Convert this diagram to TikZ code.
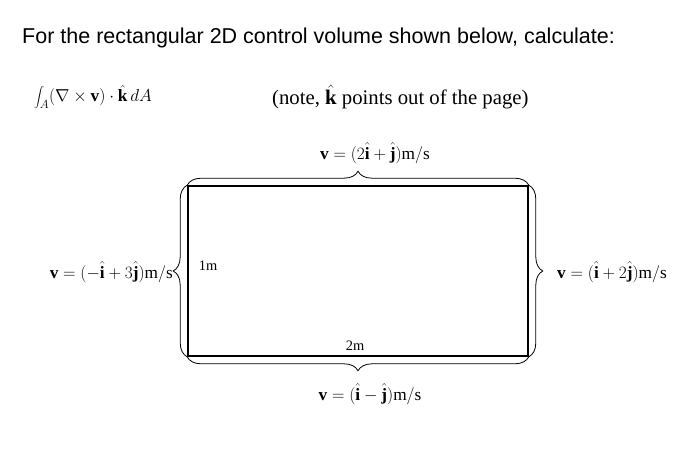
\documentclass[tikz,border=0pt]{standalone}
\usepackage{fontspec}
\setmainfont{Liberation Serif}
\newfontfamily\titlefont{Liberation Sans}
\usetikzlibrary{decorations.pathreplacing}
\begin{document}
\begin{tikzpicture}[x=1pt,y=-1pt,
  lbl/.style={font=\LARGE,inner sep=0pt},
  br/.style={decorate,decoration={brace,amplitude=14pt},thick}]
\useasboundingbox (0,0) rectangle (691,463);
\node[anchor=west,inner sep=0pt,font=\titlefont\fontsize{21.5}{24}\selectfont] (title) at (22,38) {For the rectangular 2D control volume shown below, calculate:};
\node[anchor=west,lbl] (int) at (34,97) {$\displaystyle\int_A (\nabla\times\mathbf{v})\cdot\hat{\mathbf{k}}\,dA$};
\node[anchor=west,inner sep=0pt,font=\huge] (note) at (272,97) {(note, $\hat{\mathbf{k}}$ points out of the page)};
\node[draw,line width=1.6pt,minimum width=340pt,minimum height=170pt,inner sep=0pt] (cv) at (358,271) {};
\draw[br] (cv.north west) -- (cv.north east);
\draw[br] (cv.north east) -- (cv.south east);
\draw[br] (cv.south east) -- (cv.south west);
\draw[br] (cv.south west) -- (cv.north west);
\node[lbl] (top) at (375,153) {$\mathbf{v}=(2\hat{\mathbf{i}}+\hat{\mathbf{j}})\mathrm{m/s}$};
\node[lbl] (bot) at (370,394) {$\mathbf{v}=(\hat{\mathbf{i}}-\hat{\mathbf{j}})\mathrm{m/s}$};
\node[lbl,anchor=east] (left) at (173,272) {$\mathbf{v}=(-\hat{\mathbf{i}}+3\hat{\mathbf{j}})\mathrm{m/s}$};
\node[lbl,anchor=west] (right) at (557,272) {$\mathbf{v}=(\hat{\mathbf{i}}+2\hat{\mathbf{j}})\mathrm{m/s}$};
\node[inner sep=0pt,font=\Large] (h) at (208,266) {1m};
\node[inner sep=0pt,font=\Large] (w) at (355,346) {2m};
\end{tikzpicture}
\end{document}
